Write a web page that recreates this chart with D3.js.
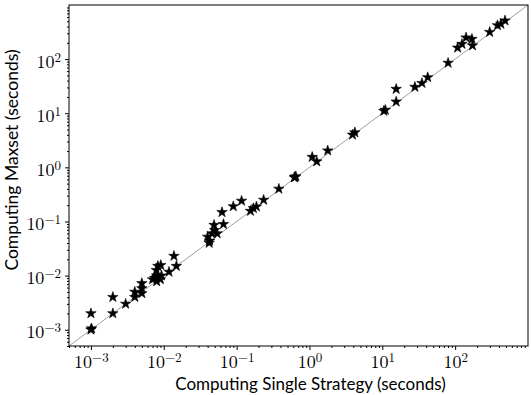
<!DOCTYPE html>
<html>
<head>
<meta charset="utf-8">
<script src="https://cdn.jsdelivr.net/npm/d3@7"></script>
<style>
html, body { margin: 0; padding: 0; background: #fff; }
svg { display: block; }
</style>
</head>
<body>
<svg id="chart" width="531" height="395"></svg>
<script>
// ---- data (seconds) ----
const singleStrategy = [
  1.0e-3, 1.02e-3, 1.0e-3, 2.0e-3, 2.0e-3, 3.0e-3, 4.0e-3, 4.0e-3,
  5.0e-3, 5.0e-3, 5.0e-3,
  7.0e-3, 7.5e-3, 8.0e-3, 8.5e-3, 9.0e-3, 9.3e-3, 8.0e-3,
  7.9e-3, 8.3e-3, 9.1e-3, 1.18e-2, 1.38e-2, 1.49e-2,
  4.27e-2, 4.0e-2, 4.6e-2, 5.0e-2, 4.9e-2, 5.4e-2, 4.2e-2,
  6.6e-2, 6.3e-2, 9.0e-2, 0.117, 0.155, 0.187, 0.17, 0.235, 0.38,
  0.62, 0.65, 0.63, 1.09, 1.26, 1.78, 3.9, 4.2, 10.5, 11.0,
  15.5, 15.5, 28, 35, 42, 80, 108, 124, 141, 170, 173, 298, 381, 424, 484
];
const maxset = [
  1.0e-3, 1.05e-3, 2.0e-3, 2.0e-3, 4.0e-3, 3.0e-3, 4.0e-3, 5.0e-3,
  4.7e-3, 5.8e-3, 7.2e-3,
  8.5e-3, 9.0e-3, 7.8e-3, 9.5e-3, 8.5e-3, 1.0e-2, 1.0e-2,
  1.26e-2, 1.5e-2, 1.56e-2, 1.17e-2, 2.3e-2, 1.5e-2,
  4.4e-2, 5.2e-2, 6.0e-2, 6.9e-2, 8.6e-2, 6.0e-2, 4.0e-2,
  8.9e-2, 0.148, 0.19, 0.24, 0.156, 0.188, 0.175, 0.25, 0.40,
  0.65, 0.68, 0.66, 1.55, 1.28, 2.04, 4.0, 4.4, 11.0, 11.5,
  28, 16.3, 30.5, 36, 46, 85, 162, 190, 250, 235, 178, 316, 420, 447, 515
];
const axisLimits = [5e-4, 1e3];
const majorTickExponents = [-3, -2, -1, 0, 1, 2];
const xLabel = "Computing Single Strategy (seconds)";
const yLabel = "Computing Maxset (seconds)";

// ---- layout ----
const svg = d3.select("#chart");
const margin = { left: 69, right: 3, top: 5, bottom: 49 };
const W = 531, H = 395;
const x = d3.scaleLog().domain(axisLimits).range([margin.left, W - margin.right]);
const y = d3.scaleLog().domain(axisLimits).range([H - margin.bottom, margin.top]);

// minor ticks 2..9 per decade
const minorTicks = [];
for (let e = -4; e <= 3; e++) {
  for (let m = 2; m <= 9; m++) {
    const v = m * Math.pow(10, e);
    if (v >= axisLimits[0] && v <= axisLimits[1]) minorTicks.push(v);
  }
}
const majorTicks = majorTickExponents.map(e => Math.pow(10, e));

function fmtTick(text, v) {
  const e = Math.round(Math.log10(v));
  text.text(null);
  text.append("tspan").text("10");
  text.append("tspan").attr("dy", "-0.45em").style("font-size", "13px")
    .text(String(e).replace("-", "\u2212"));
}

// diagonal y = x
svg.append("line")
  .attr("x1", x(axisLimits[0])).attr("y1", y(axisLimits[0]))
  .attr("x2", x(axisLimits[1])).attr("y2", y(axisLimits[1]))
  .attr("stroke", "#a0a0a0").attr("stroke-width", 1);

// axes
const fontSerif = "'Latin Modern Roman','CMU Serif','Liberation Serif',serif";
const fontSans = "'Lato','Liberation Sans',sans-serif";

const xMinor = svg.append("g").attr("transform", `translate(0,${H - margin.bottom})`)
  .call(d3.axisBottom(x).tickValues(minorTicks).tickSize(2).tickFormat(""));
const xMajor = svg.append("g").attr("transform", `translate(0,${H - margin.bottom})`)
  .call(d3.axisBottom(x).tickValues(majorTicks).tickSize(4).tickPadding(5));
xMajor.selectAll(".tick text").each(function(d) { fmtTick(d3.select(this), d); })
  .attr("font-family", fontSerif).style("font-size", "18px").attr("fill", "#000");

const yMinor = svg.append("g").attr("transform", `translate(${margin.left},0)`)
  .call(d3.axisLeft(y).tickValues(minorTicks).tickSize(2).tickFormat(""));
const yMajor = svg.append("g").attr("transform", `translate(${margin.left},0)`)
  .call(d3.axisLeft(y).tickValues(majorTicks).tickSize(4).tickPadding(4));
yMajor.selectAll(".tick text").each(function(d) { fmtTick(d3.select(this), d); })
  .attr("font-family", fontSerif).style("font-size", "18px").attr("fill", "#000")
  .attr("dy", "0.45em");

[xMinor, xMajor, yMinor, yMajor].forEach(g => {
  g.select(".domain").remove();
  g.selectAll(".tick line").attr("stroke", "#000").attr("stroke-width", 1);
});

// frame
svg.append("rect")
  .attr("x", margin.left).attr("y", margin.top)
  .attr("width", W - margin.right - margin.left)
  .attr("height", H - margin.bottom - margin.top)
  .attr("fill", "none").attr("stroke", "#000").attr("stroke-width", 1);

// points
const star = d3.symbol().type(d3.symbolStar).size(34);
svg.append("g").selectAll("path")
  .data(d3.zip(singleStrategy, maxset))
  .join("path")
  .attr("d", star)
  .attr("transform", d => `translate(${x(d[0])},${y(d[1])})`)
  .attr("fill", "#000").attr("stroke", "#000").attr("stroke-width", 0.6);

// labels
svg.append("text")
  .attr("x", (margin.left + W - margin.right) / 2 + 12).attr("y", 390)
  .attr("text-anchor", "middle")
  .attr("font-family", fontSans).style("font-size", "17px")
  .text(xLabel);
svg.append("text")
  .attr("transform", `translate(18,160) rotate(-90)`)
  .attr("text-anchor", "middle")
  .attr("font-family", fontSans).style("font-size", "17.5px")
  .text(yLabel);
</script>
</body>
</html>
